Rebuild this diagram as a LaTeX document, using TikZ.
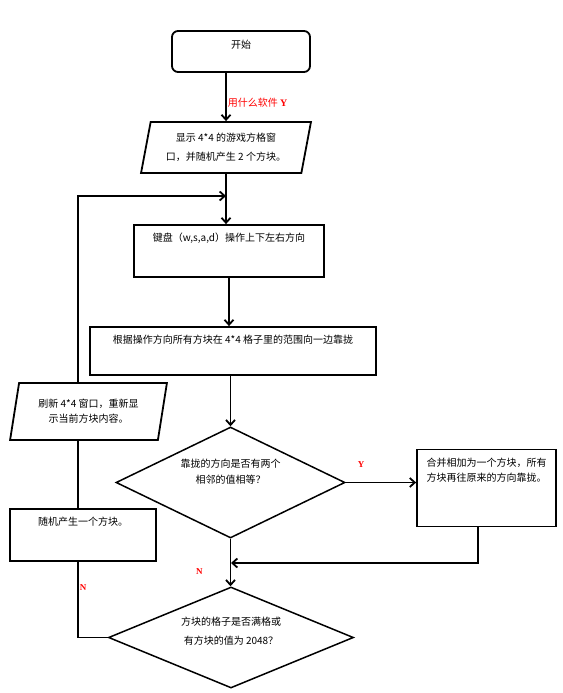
\documentclass[tikz,border=0pt]{standalone}
\usepackage{fontspec}
\usepackage{xcolor}
\usetikzlibrary{arrows.meta, positioning, shapes.geometric}
\newfontfamily\cjk{Noto Sans CJK SC}
\newfontfamily\tnr{Liberation Serif}
\def\linew{1.8pt}

\begin{document}
\begin{tikzpicture}[x=1pt, y=-1pt, line width=\linew, draw=black]
    \tikzstyle{every node}=[font=\cjk\fontsize{10}{15}\selectfont]
    \tikzstyle{box}=[rectangle, draw, inner sep=0pt]
    \tikzstyle{oneline}=[text height=8pt]
    \tikzstyle{io}=[trapezium, trapezium left angle=75, trapezium right angle=105, trapezium stretches=true, draw, inner sep=0pt, align=center]
    \tikzstyle{decision}=[diamond, draw, line width=1.5pt, inner sep=0pt, align=center]
    \tikzstyle{arrow}=[-{Straight Barb[length=5pt,width=9pt]}]
    \tikzstyle{yn}=[text=red, font=\tnr\bfseries\fontsize{9}{10}\selectfont, inner sep=1pt]

    \useasboundingbox (0,0) rectangle (562,693);

    % Draw the boxes of the main column
    \node[box, oneline, rounded corners=6pt, minimum width=138pt, minimum height=41pt, text depth=13.4pt] (start) at (241,51.5) {开始};
    \node[io, minimum width=170pt, minimum height=51pt, font=\cjk\fontsize{10}{19}\selectfont] (show) at (226,147.5) {显示 4*4 的游戏方格窗\\口，并随机产生 2 个方块。};
    \node[box, oneline, minimum width=190pt, minimum height=52pt, text depth=26.4pt] (keys) at (229,251) {键盘（w,s,a,d）操作上下左右方向};
    \node[box, oneline, minimum width=286pt, minimum height=48pt, text depth=22.4pt] (slide) at (233,351) {根据操作方向所有方块在 4*4 格子里的范围向一边靠拢};
    \node[decision, aspect=2.06, minimum width=229pt, minimum height=111pt, text depth=22.2pt, font=\cjk\fontsize{10}{16}\selectfont] (same) at (230.5,482.5) {靠拢的方向是否有两个\\相邻的值相等？};
    \node[decision, aspect=2.43, minimum width=245pt, minimum height=101pt, text depth=13.2pt, font=\cjk\fontsize{10}{19}\selectfont] (full) at (231,637.5) {方块的格子是否满格或\\有方块的值为 2048？};

    % Draw the side boxes
    \node[box, minimum width=139pt, minimum height=77pt, text depth=36.2pt, align=left] (merge) at (486.5,488) {合并相加为一个方块，所有\\方块再往原来的方向靠拢。};
    \node[io, minimum width=157pt, minimum height=57pt] (refresh) at (88.5,411.5) {刷新 4*4 窗口，重新显\\示当前方块内容。};
    \node[box, oneline, minimum width=146pt, minimum height=52pt, text depth=26.4pt] (spawn) at (83,535) {随机产生一个方块。};

    \coordinate (back) at (78,196);
    \coordinate (join) at (478,563);

    % Connect the main column
    \draw[arrow] (start.south -| show.north) -- node[right, pos=0.62, text=red, inner sep=1pt] (ask) {用什么软件 {\tnr\bfseries Y}} (show.north);
    \draw[arrow] (show.south) -- (show.south |- keys.north);
    \draw[arrow] (keys.south) -- (keys.south |- slide.north);
    \draw[arrow] (same.north |- slide.south) -- (same.north);
    \draw[arrow] (same.south) -- node[yn, left=26pt, pos=0.7] (no1) {N} (same.south |- full.north);

    % Connect the side boxes
    \draw[arrow] (same.east) -- node[yn, above=13pt, pos=0.22] (yes) {Y} (same.east -| merge.west);
    \draw[arrow] (merge.south -| join) -- (join) -- (join -| full.north);

    % Loop back to the keyboard box
    \draw (full.west) -| node[yn, right, pos=0.83] (no2) {N} (back |- spawn.south);
    \draw (back |- spawn.north) -- (back |- refresh.south);
    \draw[arrow] (back |- refresh.north) -- (back) -- (back -| show.south);
\end{tikzpicture}
\end{document}
